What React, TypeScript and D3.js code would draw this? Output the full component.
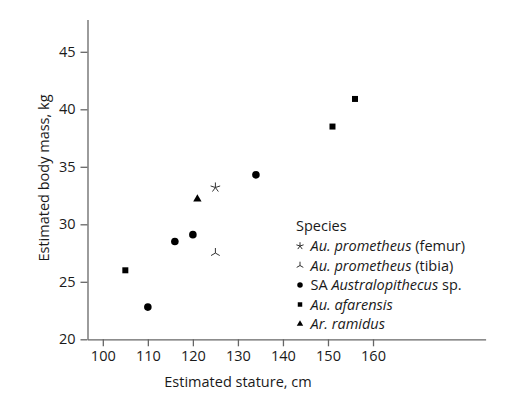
import { useEffect, useRef } from "react";
import * as d3 from "d3";

// Estimated stature (cm) and body mass (kg) per group
const femurStature = [125];
const femurMass = [33.2];
const tibiaStature = [125];
const tibiaMass = [27.5];
const saStature = [110, 116, 120, 134];
const saMass = [22.8, 28.5, 29.1, 34.3];
const afarensisStature = [105, 151, 156];
const afarensisMass = [26.0, 38.5, 40.9];
const ramidusStature = [121];
const ramidusMass = [32.2];

const xTicks = [100, 110, 120, 130, 140, 150, 160];
const yTicks = [20, 25, 30, 35, 40, 45];

// legend labels: [text, italic?]
const legendTitle = "Species";
const legendLabels: [string, boolean][][] = [
  [["Au. prometheus", true], [" (femur)", false]],
  [["Au. prometheus", true], [" (tibia)", false]],
  [["SA ", false], ["Australopithecus", true], [" sp.", false]],
  [["Au. afarensis", true]],
  [["Ar. ramidus", true]],
];

// five-armed asterisk drawn as thin lines
const symbolStar = {
  draw(ctx: any, size: number) {
    const r = Math.sqrt(size) * 0.6;
    for (let k = 0; k < 5; k++) {
      const a = -Math.PI / 2 + (k * 2 * Math.PI) / 5;
      ctx.moveTo(0, 0);
      ctx.lineTo(r * Math.cos(a), r * Math.sin(a));
    }
  },
};

// inverted wye drawn as thin lines
const symbolTibia = {
  draw(ctx: any, size: number) {
    const r = Math.sqrt(size) * 0.6;
    ctx.moveTo(0, 0);
    ctx.lineTo(0, -r);
    ctx.moveTo(0, 0);
    ctx.lineTo(-r * 0.87, r * 0.5);
    ctx.moveTo(0, 0);
    ctx.lineTo(r * 0.87, r * 0.5);
  },
};

export default function App() {
  const svgRef = useRef<SVGSVGElement>(null);

  useEffect(() => {
    if (!svgRef.current) return;
    const svg = d3.select(svgRef.current);
    svg.selectAll("*").remove();

    const font = "'Open Sans', sans-serif";
    const fontSize = "14.5px";
    const axisColor = "#666";
    const textColor = "#1a1a1a";

    const x = d3.scaleLinear().domain([96.6, 185]).range([87.5, 485.6]);
    const y = d3.scaleLinear().domain([20, 47.8]).range([339.3, 19.6]);

    // axes
    const gx = svg
      .append("g")
      .attr("transform", `translate(0,${y(20)})`)
      .call(d3.axisBottom(x).tickValues(xTicks).tickSize(7).tickSizeOuter(0).tickPadding(4));
    const gy = svg
      .append("g")
      .attr("transform", `translate(${x(96.6)},0)`)
      .call(d3.axisLeft(y).tickValues(yTicks).tickSize(7).tickSizeOuter(0).tickPadding(5));

    [gx, gy].forEach((g) => {
      g.select(".domain").attr("stroke", axisColor).attr("stroke-width", 1.3);
      g.selectAll(".tick line").attr("stroke", axisColor).attr("stroke-width", 1.3);
      g.selectAll(".tick text")
        .attr("fill", textColor)
        .style("font-family", font)
        .style("font-size", fontSize);
    });

    // axis titles
    svg
      .append("text")
      .attr("x", 238)
      .attr("y", 387)
      .attr("text-anchor", "middle")
      .attr("fill", textColor)
      .style("font-family", font)
      .style("font-size", fontSize)
      .text("Estimated stature, cm");

    svg
      .append("text")
      .attr("transform", `translate(49,178) rotate(-90)`)
      .attr("text-anchor", "middle")
      .attr("fill", textColor)
      .style("font-family", font)
      .style("font-size", fontSize)
      .text("Estimated body mass, kg");

    // series
    const groups = [
      { xs: femurStature, ys: femurMass, type: symbolStar, size: 70, legendSize: 40, line: true },
      { xs: tibiaStature, ys: tibiaMass, type: symbolTibia, size: 70, legendSize: 40, line: true },
      { xs: saStature, ys: saMass, type: d3.symbolCircle, size: 45, legendSize: 24, line: false },
      { xs: afarensisStature, ys: afarensisMass, type: d3.symbolSquare, size: 36, legendSize: 20, line: false },
      { xs: ramidusStature, ys: ramidusMass, type: d3.symbolTriangle, size: 30, legendSize: 18, line: false },
    ];

    groups.forEach((grp) => {
      const sym = d3.symbol().type(grp.type as any).size(grp.size);
      svg
        .append("g")
        .selectAll("path")
        .data(grp.xs.map((v, i) => [v, grp.ys[i]]))
        .enter()
        .append("path")
        .attr("transform", (d) => `translate(${x(d[0])},${y(d[1])})`)
        .attr("d", sym()!)
        .attr("fill", grp.line ? "none" : "#000")
        .attr("stroke", grp.line ? "#333" : "none")
        .attr("stroke-width", 1);
    });

    // legend
    const legend = svg.append("g").attr("transform", "translate(296,0)");
    legend
      .append("text")
      .attr("x", 0)
      .attr("y", 231)
      .attr("fill", textColor)
      .style("font-family", font)
      .style("font-size", fontSize)
      .text(legendTitle);

    legendLabels.forEach((parts, i) => {
      const base = 251 + i * 19.5;
      const grp = groups[i];
      legend
        .append("path")
        .attr("transform", `translate(4,${base - 5})`)
        .attr("d", d3.symbol().type(grp.type as any).size(grp.legendSize)()!)
        .attr("fill", grp.line ? "none" : "#000")
        .attr("stroke", grp.line ? "#333" : "none")
        .attr("stroke-width", 1);
      const t = legend
        .append("text")
        .attr("x", 14.5)
        .attr("y", base)
        .attr("fill", textColor)
        .style("font-family", font)
        .style("font-size", fontSize);
      parts.forEach(([s, it]) => {
        t.append("tspan")
          .attr("font-style", it ? "italic" : "normal")
          .style("white-space", "pre")
          .text(s);
      });
    });
  }, []);

  return (
    <svg
      ref={svgRef}
      width={520}
      height={413}
      style={{ position: "absolute", left: 0, top: 0, background: "#fff" }}
    />
  );
}
